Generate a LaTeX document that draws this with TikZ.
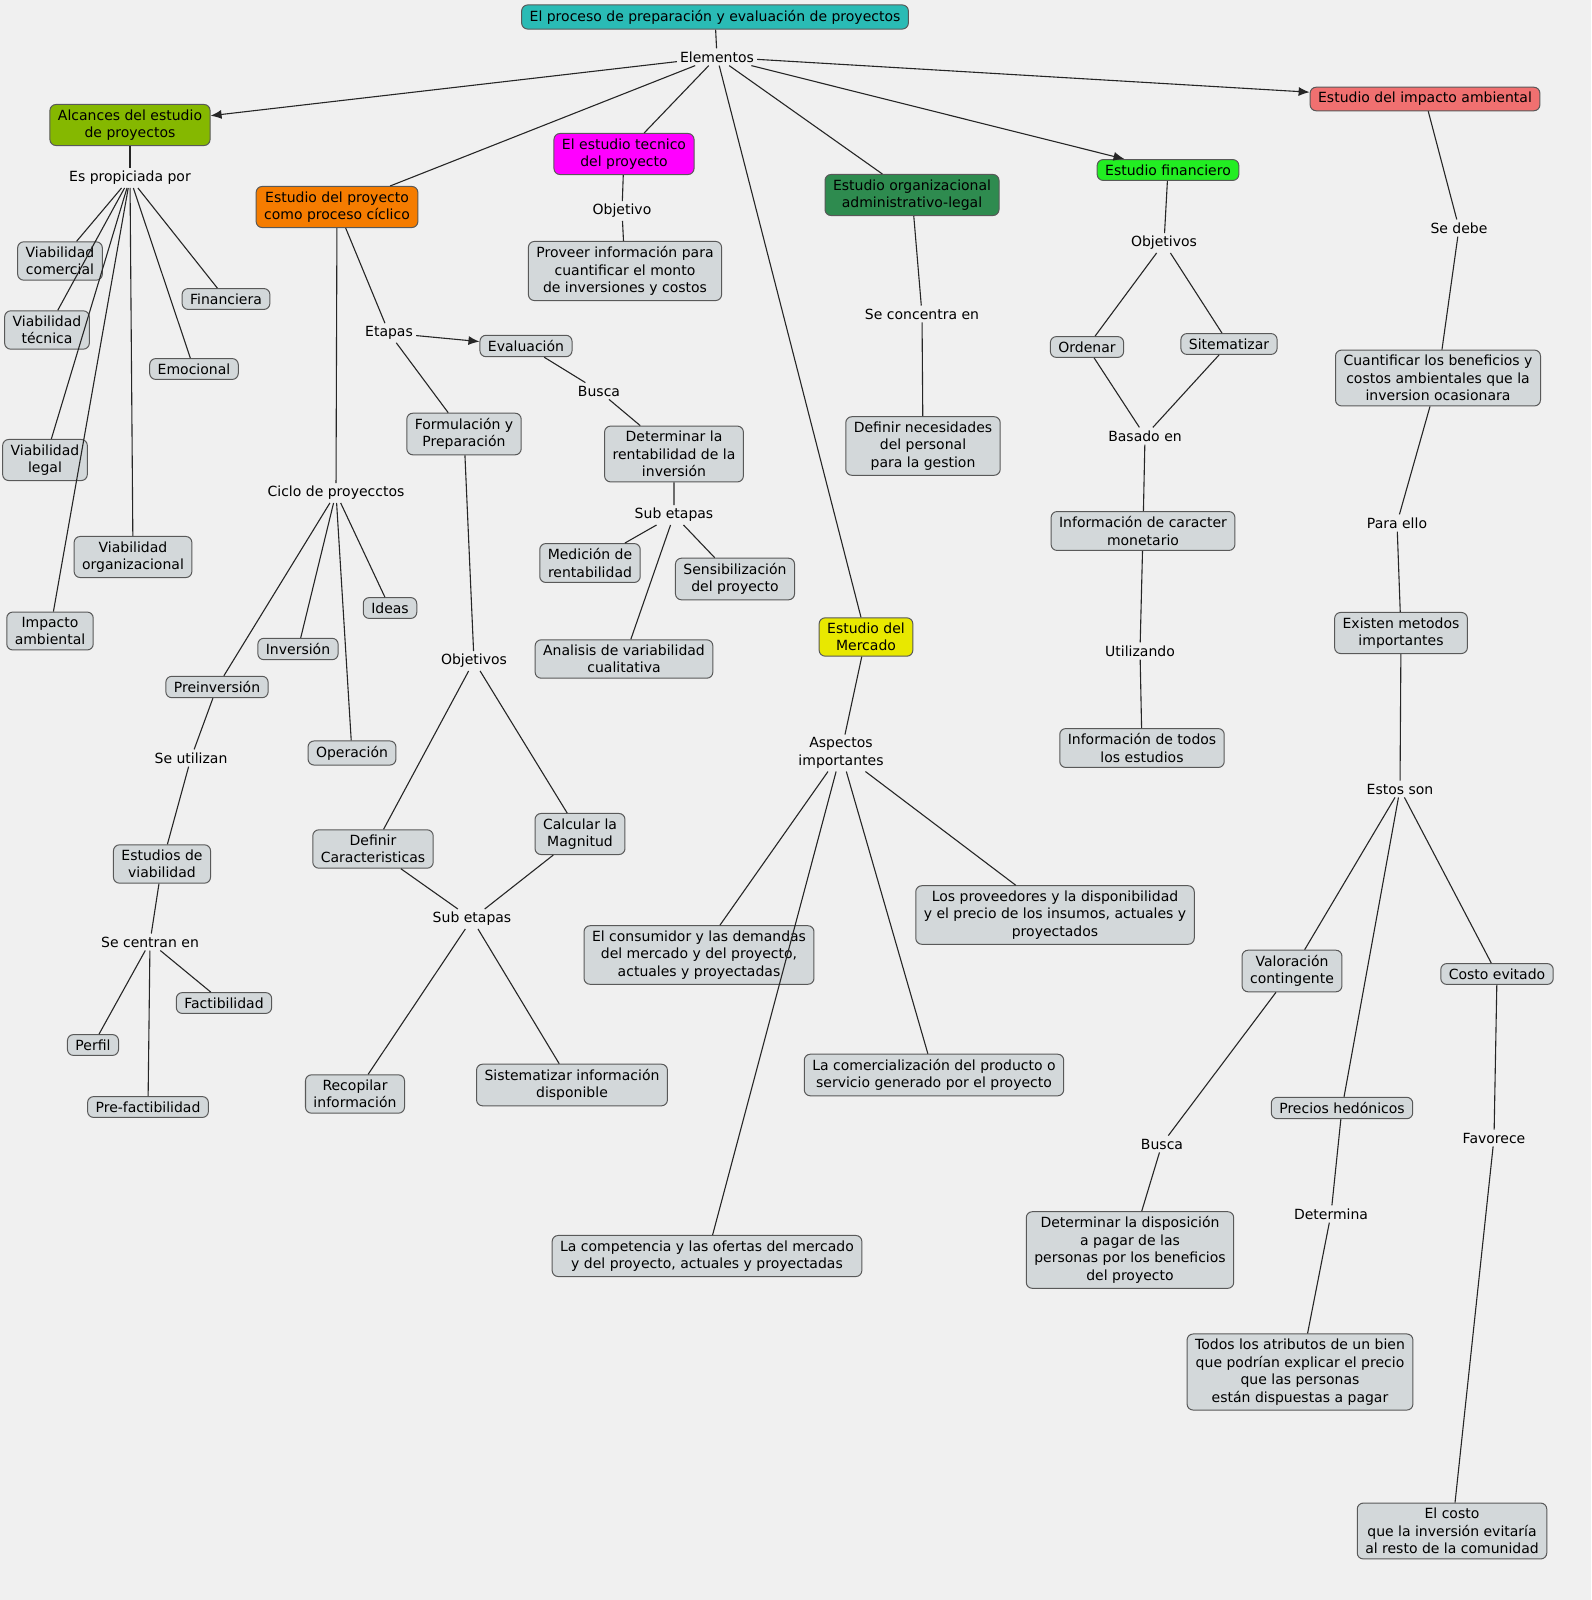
\documentclass[tikz,border=0pt]{standalone}
\usepackage{fontspec}
\setmainfont{DejaVu Sans}
\usetikzlibrary{arrows.meta}
\definecolor{bg}{HTML}{F0F0F0}
\definecolor{boxf}{HTML}{D3D8DA}
\definecolor{teal1}{HTML}{2ABBB5}
\definecolor{olive1}{HTML}{85B800}
\definecolor{orange1}{HTML}{F57C00}
\definecolor{mag1}{HTML}{FF00FF}
\definecolor{dgreen}{HTML}{2E8B4F}
\definecolor{yel1}{HTML}{E8E800}
\definecolor{lgreen}{HTML}{22EE22}
\definecolor{salm}{HTML}{F07070}
\begin{document}
\begin{tikzpicture}[x=1pt,y=-1pt,
  every node/.style={font=\fontsize{14}{17.5}\selectfont,align=center},
  bx/.style={draw=black!65,fill=boxf,rounded corners=6pt,inner xsep=8pt,inner ysep=5pt,line width=1pt},
  lb/.style={inner sep=3pt},
  ln/.style={draw=black!85,line width=1.1pt},
  ar/.style={ln,-{Latex[length=11pt,width=9pt]}}]
\fill[bg] (0,0) rectangle (1591,1600);
\useasboundingbox (0,0) rectangle (1591,1600);
% top
\node[bx,fill=teal1] (title) at (715,17) {El proceso de preparación y evaluación de proyectos};
\node[lb] (elem) at (717,57) {Elementos};
% alcances
\node[bx,fill=olive1] (alc) at (130,125) {Alcances del estudio\\de proyectos};
\node[lb] (espro) at (130,178) {Es propiciada por};
\node[bx] (vcom) at (60,261) {Viabilidad\\comercial};
\node[bx] (vtec) at (47,330) {Viabilidad\\técnica};
\node[bx] (vleg) at (45,460) {Viabilidad\\legal};
\node[bx] (vorg) at (133,557) {Viabilidad\\organizacional};
\node[bx] (imp) at (50,631) {Impacto\\ambiental};
\node[bx] (fin) at (226,299) {Financiera};
\node[bx] (emo) at (194,369) {Emocional};
% ciclo
\node[bx,fill=orange1] (ciclo) at (337,207) {Estudio del proyecto\\como proceso cíclico};
\node[lb] (etapas) at (389,333) {Etapas};
\node[bx] (eval) at (526,346) {Evaluación};
\node[lb] (busca1) at (599,391) {Busca};
\node[bx] (det) at (674,454) {Determinar la\\rentabilidad de la\\inversión};
\node[lb] (subet1) at (674,515) {Sub etapas};
\node[bx] (med) at (590,563) {Medición de\\rentabilidad};
\node[bx] (sens) at (735,579) {Sensibilización\\del proyecto};
\node[bx] (anal) at (624,659) {Analisis de variabilidad\\cualitativa};
\node[bx] (form) at (464,434) {Formulación y\\Preparación};
\node[lb] (cicp) at (336,493) {Ciclo de proyecctos};
\node[bx] (ideas) at (390,608) {Ideas};
\node[bx] (inv) at (298,649) {Inversión};
\node[bx] (prein) at (217,687) {Preinversión};
\node[bx] (oper) at (352,753) {Operación};
\node[lb] (seut) at (191,758) {Se utilizan};
\node[bx] (estv) at (162,864) {Estudios de\\viabilidad};
\node[lb] (secen) at (150,942) {Se centran en};
\node[bx] (fact) at (224,1003) {Factibilidad};
\node[bx] (perfil) at (93,1045) {Perfil};
\node[bx] (pref) at (148,1107) {Pre-factibilidad};
\node[lb] (obj2) at (474,661) {Objetivos};
\node[bx] (defc) at (373,849) {Definir\\Caracteristicas};
\node[bx] (calm) at (580,834) {Calcular la\\Magnitud};
\node[lb] (sub2) at (472,919) {Sub etapas};
\node[bx] (recop) at (355,1094) {Recopilar\\información};
\node[bx] (sist) at (572,1085) {Sistematizar información\\disponible};
% tecnico
\node[bx,fill=mag1] (tec) at (624,154) {El estudio tecnico\\del proyecto};
\node[lb] (objt) at (622,211) {Objetivo};
\node[bx] (prov) at (625,271) {Proveer información para\\cuantificar el monto\\de inversiones y costos};
% org
\node[bx,fill=dgreen] (org) at (912,195) {Estudio organizacional\\administrativo-legal};
\node[lb] (secon) at (922,314) {Se concentra en};
\node[bx] (defn) at (923,446) {Definir necesidades\\del personal\\para la gestion};
% mercado
\node[bx,fill=yel1] (merc) at (866,637) {Estudio del\\Mercado};
\node[lb] (asp) at (841,753) {Aspectos\\importantes};
\node[bx] (cons) at (699,955) {El consumidor y las demandas\\del mercado y del proyecto,\\actuales y proyectadas};
\node[bx] (prov2) at (1055,915) {Los proveedores y la disponibilidad\\y el precio de los insumos, actuales y\\proyectados};
\node[bx] (comer) at (934,1075) {La comercialización del producto o\\servicio generado por el proyecto};
\node[bx] (comp) at (707,1256) {La competencia y las ofertas del mercado\\y del proyecto, actuales y proyectadas};
% financiero
\node[bx,fill=lgreen] (finan) at (1168,170) {Estudio financiero};
\node[lb] (objf) at (1164,243) {Objetivos};
\node[bx] (ord) at (1087,347) {Ordenar};
\node[bx] (sitem) at (1229,344) {Sitematizar};
\node[lb] (bas) at (1145,436) {Basado en};
\node[bx] (infm) at (1143,531) {Información de caracter\\monetario};
\node[lb] (util) at (1140,651) {Utilizando};
\node[bx] (infe) at (1142,748) {Información de todos\\los estudios};
% ambiental
\node[bx,fill=salm] (amb) at (1425,99) {Estudio del impacto ambiental};
\node[lb] (sedebe) at (1459,228) {Se debe};
\node[bx] (cuan) at (1438,378) {Cuantificar los beneficios y\\costos ambientales que la\\inversion ocasionara};
\node[lb] (para) at (1397,523) {Para ello};
\node[bx] (exis) at (1401,633) {Existen metodos\\importantes};
\node[lb] (estos) at (1400,789) {Estos son};
\node[bx] (valc) at (1292,971) {Valoración\\contingente};
\node[bx] (costo) at (1497,974) {Costo evitado};
\node[bx] (prec) at (1342,1108) {Precios hedónicos};
\node[lb] (busca2) at (1162,1144) {Busca};
\node[bx] (detd) at (1130,1250) {Determinar la disposición\\a pagar de las\\personas por los beneficios\\del proyecto};
\node[lb] (detm) at (1331,1214) {Determina};
\node[bx] (todos) at (1300,1372) {Todos los atributos de un bien\\que podrían explicar el precio\\que las personas\\están dispuestas a pagar};
\node[lb] (fav) at (1494,1138) {Favorece};
\node[bx] (elc) at (1452,1531) {El costo\\que la inversión evitaría\\al resto de la comunidad};
% edges
\draw[ln] (title)--(elem);
\draw[ar] (elem)--(alc);
\draw[ar] (elem)--(finan);
\draw[ar] (elem)--(amb);
\foreach \t in {ciclo,tec,merc,org} \draw[ln] (elem)--(\t);
\draw[ln] (alc)--(espro);
\foreach \t in {vcom,vtec,vleg,imp,vorg,emo,fin} \draw[ln] (espro)--(\t);
\draw[ln] (ciclo)--(cicp);
\draw[ln] (ciclo)--(etapas);
\draw[ar] (etapas)--(eval);
\draw[ln] (etapas)--(form);
\draw[ln] (eval)--(busca1)--(det)--(subet1);
\foreach \t in {med,sens,anal} \draw[ln] (subet1)--(\t);
\foreach \t in {ideas,inv,prein,oper} \draw[ln] (cicp)--(\t);
\draw[ln] (prein)--(seut)--(estv)--(secen);
\foreach \t in {fact,perfil,pref} \draw[ln] (secen)--(\t);
\draw[ln] (form)--(obj2);
\draw[ln] (obj2)--(defc); \draw[ln] (obj2)--(calm);
\draw[ln] (defc)--(sub2); \draw[ln] (calm)--(sub2);
\draw[ln] (sub2)--(recop); \draw[ln] (sub2)--(sist);
\draw[ln] (tec)--(objt)--(prov);
\draw[ln] (org)--(secon)--(defn);
\draw[ln] (merc)--(asp);
\foreach \t in {cons,prov2,comer,comp} \draw[ln] (asp)--(\t);
\draw[ln] (finan)--(objf);
\draw[ln] (objf)--(ord); \draw[ln] (objf)--(sitem);
\draw[ln] (ord)--(bas); \draw[ln] (sitem)--(bas);
\draw[ln] (bas)--(infm)--(util)--(infe);
\draw[ln] (amb)--(sedebe)--(cuan)--(para)--(exis)--(estos);
\foreach \t in {valc,prec,costo} \draw[ln] (estos)--(\t);
\draw[ln] (valc)--(busca2)--(detd);
\draw[ln] (prec)--(detm)--(todos);
\draw[ln] (costo)--(fav)--(elc);
\end{tikzpicture}
\end{document}
